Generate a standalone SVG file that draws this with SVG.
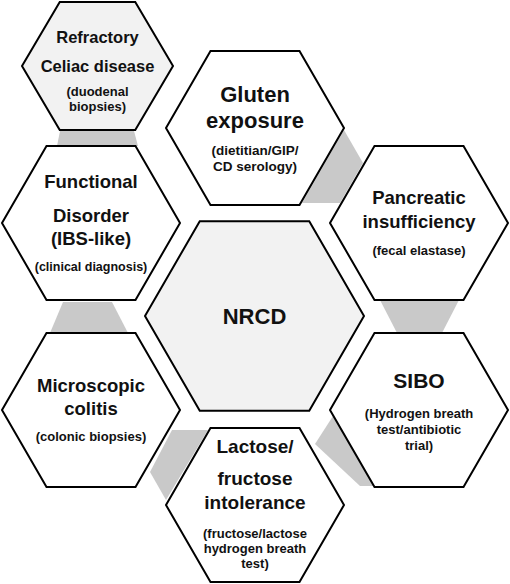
<svg xmlns="http://www.w3.org/2000/svg" width="510" height="584" viewBox="0 0 510 584">
<style>
.hex{fill:#ffffff;stroke:#000;stroke-width:2;stroke-linejoin:miter}
.hexg{fill:#f2f2f2;stroke:#000;stroke-width:2}
.conn{fill:#c9c9c9;stroke:none}
text{font-family:"Liberation Sans",Arial,sans-serif;font-weight:bold;fill:#111;text-anchor:middle}
.big{font-size:18.5px}
.sm{font-size:13px}
</style>
<rect width="510" height="584" fill="#ffffff"/>
<g id="connectors">
<polygon class="conn" points="60,131 134,131 138,146 57,146"/>
<polygon class="conn" points="344,130 363,163 340,203 302,203"/>
<polygon class="conn" points="380,300 459,300 442,333 397,333"/>
<polygon class="conn" points="333,416 315,444 360,486 374,486"/>
<polygon class="conn" points="172,430 208,430 166,500 150,472"/>
<polygon class="conn" points="63,302 112,302 128,333 50,333"/>
</g>
<g id="refractory">
<polygon class="hexg" points="22,66 59.75,2 135.25,2 173,66 135.25,130 59.75,130"/>
<text x="97.5" y="43" style="font-size:16.5px">Refractory</text>
<text x="97.5" y="72" style="font-size:16.5px">Celiac disease</text>
<text class="sm" x="97.5" y="96">(duodenal</text>
<text class="sm" x="97.5" y="111">biopsies)</text>
</g>
<g id="gluten">
<polygon class="hex" points="166,128 210.5,51 299.5,51 344,128 299.5,205 210.5,205"/>
<text x="255" y="102" style="font-size:22px">Gluten</text>
<text x="255" y="128" style="font-size:22px">exposure</text>
<text x="255" y="155" style="font-size:13.5px">(dietitian/GIP/</text>
<text x="255" y="171" style="font-size:13.5px">CD serology)</text>
</g>
<g id="functional">
<polygon class="hex" points="2,223 46.5,146 135.5,146 180,223 135.5,300 46.5,300"/>
<text class="big" x="91" y="188">Functional</text>
<text class="big" x="91" y="222">Disorder</text>
<text class="big" x="91" y="245">(IBS-like)</text>
<text x="91" y="271" style="font-size:12.5px">(clinical diagnosis)</text>
</g>
<g id="pancreatic">
<polygon class="hex" points="330,223 374.5,146 463.5,146 508,223 463.5,300 374.5,300"/>
<text class="big" x="419" y="204">Pancreatic</text>
<text class="big" x="419" y="228">insufficiency</text>
<text class="sm" x="419" y="255">(fecal elastase)</text>
</g>
<g id="nrcd">
<polygon class="hexg" points="145,316 199.75,221.2 309.25,221.2 364,316 309.25,410.8 199.75,410.8"/>
<text x="254.5" y="324" style="font-size:22px">NRCD</text>
</g>
<g id="microscopic">
<polygon class="hex" points="2,410 46.5,333 135.5,333 180,410 135.5,487 46.5,487"/>
<text class="big" x="91" y="392">Microscopic</text>
<text class="big" x="91" y="415">colitis</text>
<text class="sm" x="91" y="441">(colonic biopsies)</text>
</g>
<g id="sibo">
<polygon class="hex" points="330,410 374.5,333 463.5,333 508,410 463.5,487 374.5,487"/>
<text x="419" y="388" style="font-size:21px">SIBO</text>
<text class="sm" x="419" y="418">(Hydrogen breath</text>
<text class="sm" x="419" y="434">test/antibiotic</text>
<text class="sm" x="419" y="450">trial)</text>
</g>
<g id="lactose">
<polygon class="hex" points="166,505 210.5,428 299.5,428 344,505 299.5,582 210.5,582"/>
<text x="255" y="453" style="font-size:19px">Lactose/</text>
<text x="255" y="485" style="font-size:19px">fructose</text>
<text x="255" y="509" style="font-size:19px">intolerance</text>
<text class="sm" x="255" y="538">(fructose/lactose</text>
<text class="sm" x="255" y="553">hydrogen breath</text>
<text class="sm" x="255" y="568">test)</text>
</g>
</svg>
